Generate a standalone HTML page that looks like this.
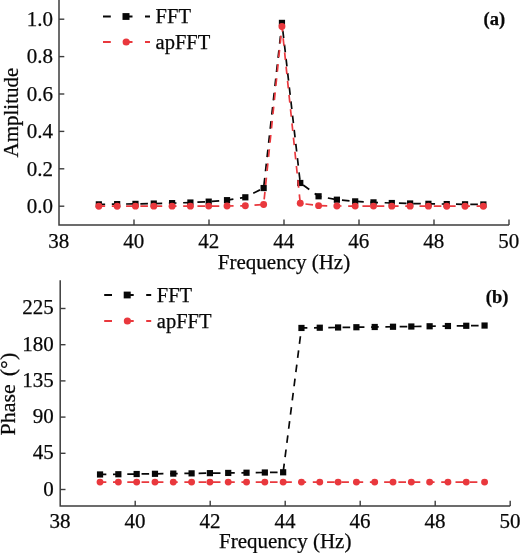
<!DOCTYPE html>
<html><head><meta charset="utf-8"><title>FFT vs apFFT</title>
<style>html,body{margin:0;padding:0;background:#fff}svg{display:block}</style></head>
<body>
<svg width="520" height="553" viewBox="0 0 520 553" font-family="'Liberation Serif', serif" font-size="21px">
<rect width="520" height="553" fill="#fff"/>
<style>text{stroke:#080808;stroke-width:0.25px}</style>
<path d="M59 0 V224.9 H509" fill="none" stroke="#3d3d3d" stroke-width="1.5"/>
<path d="M134.0 224.9 v-5.3" stroke="#3d3d3d" stroke-width="1.4"/>
<path d="M209.0 224.9 v-5.3" stroke="#3d3d3d" stroke-width="1.4"/>
<path d="M284.0 224.9 v-5.3" stroke="#3d3d3d" stroke-width="1.4"/>
<path d="M359.0 224.9 v-5.3" stroke="#3d3d3d" stroke-width="1.4"/>
<path d="M434.0 224.9 v-5.3" stroke="#3d3d3d" stroke-width="1.4"/>
<path d="M509.0 224.9 v-5.3" stroke="#3d3d3d" stroke-width="1.4"/>
<text x="58.7" y="248.0" text-anchor="middle" fill="#080808">38</text>
<text x="133.7" y="248.0" text-anchor="middle" fill="#080808">40</text>
<text x="208.7" y="248.0" text-anchor="middle" fill="#080808">42</text>
<text x="283.7" y="248.0" text-anchor="middle" fill="#080808">44</text>
<text x="358.7" y="248.0" text-anchor="middle" fill="#080808">46</text>
<text x="433.7" y="248.0" text-anchor="middle" fill="#080808">48</text>
<text x="508.7" y="248.0" text-anchor="middle" fill="#080808">50</text>
<path d="M59 206.2 h5.3" stroke="#3d3d3d" stroke-width="1.4"/>
<text x="53" y="213.0" text-anchor="end" fill="#080808">0.0</text>
<path d="M59 168.79999999999998 h5.3" stroke="#3d3d3d" stroke-width="1.4"/>
<text x="53" y="175.6" text-anchor="end" fill="#080808">0.2</text>
<path d="M59 131.39999999999998 h5.3" stroke="#3d3d3d" stroke-width="1.4"/>
<text x="53" y="138.2" text-anchor="end" fill="#080808">0.4</text>
<path d="M59 93.99999999999999 h5.3" stroke="#3d3d3d" stroke-width="1.4"/>
<text x="53" y="100.79999999999998" text-anchor="end" fill="#080808">0.6</text>
<path d="M59 56.599999999999994 h5.3" stroke="#3d3d3d" stroke-width="1.4"/>
<text x="53" y="63.39999999999999" text-anchor="end" fill="#080808">0.8</text>
<path d="M59 19.19999999999999 h5.3" stroke="#3d3d3d" stroke-width="1.4"/>
<text x="53" y="25.99999999999999" text-anchor="end" fill="#080808">1.0</text>
<text x="284" y="268.6" text-anchor="middle" fill="#080808">Frequency (Hz)</text>
<text transform="translate(18.2 112.6) rotate(-90)" text-anchor="middle"  fill="#080808">Amplitude</text>
<path d="M103 16.5 H110.8 M126 16.5 H132.5 M145 16.5 H150" stroke="#080808" stroke-width="2"/>
<rect x="122.5" y="13.1" width="7" height="6.8" fill="#080808"/>
<text x="155.6" y="23.1" font-size="20.5px" fill="#080808">FFT</text>
<path d="M103 42 H110.8 M126 42 H132.5 M145 42 H150" stroke="#e9383d" stroke-width="2"/>
<circle cx="126.2" cy="42" r="3.6" fill="#e9383d"/>
<text x="155.6" y="48.6" font-size="20.5px" fill="#080808">apFFT</text>
<text x="483.5" y="24.8" font-weight="bold" font-size="18.5px" fill="#080808">(a)</text>
<polyline points="98.84,204.35 117.15,204.14 135.46,203.89 153.78,203.56 172.09,203.13 190.40,202.53 208.71,201.64 227.02,200.17 245.33,197.31 263.64,188.04 281.95,22.90 300.26,182.98 318.57,196.28 336.88,199.71 355.19,201.38 373.50,202.37 391.81,203.02 410.12,203.48 428.43,203.82 446.74,204.09 465.05,204.30 483.37,204.48" fill="none" stroke="#080808" stroke-width="1.7" stroke-dasharray="7.6 6.67" stroke-dashoffset="1.3"/>
<rect x="95.74" y="201.25" width="6.2" height="6.2" fill="#080808"/>
<rect x="114.05" y="201.04" width="6.2" height="6.2" fill="#080808"/>
<rect x="132.36" y="200.79" width="6.2" height="6.2" fill="#080808"/>
<rect x="150.68" y="200.46" width="6.2" height="6.2" fill="#080808"/>
<rect x="168.99" y="200.03" width="6.2" height="6.2" fill="#080808"/>
<rect x="187.30" y="199.43" width="6.2" height="6.2" fill="#080808"/>
<rect x="205.61" y="198.54" width="6.2" height="6.2" fill="#080808"/>
<rect x="223.92" y="197.07" width="6.2" height="6.2" fill="#080808"/>
<rect x="242.23" y="194.21" width="6.2" height="6.2" fill="#080808"/>
<rect x="260.54" y="184.94" width="6.2" height="6.2" fill="#080808"/>
<rect x="278.85" y="19.80" width="6.2" height="6.2" fill="#080808"/>
<rect x="297.16" y="179.88" width="6.2" height="6.2" fill="#080808"/>
<rect x="315.47" y="193.18" width="6.2" height="6.2" fill="#080808"/>
<rect x="333.78" y="196.61" width="6.2" height="6.2" fill="#080808"/>
<rect x="352.09" y="198.28" width="6.2" height="6.2" fill="#080808"/>
<rect x="370.40" y="199.27" width="6.2" height="6.2" fill="#080808"/>
<rect x="388.71" y="199.92" width="6.2" height="6.2" fill="#080808"/>
<rect x="407.02" y="200.38" width="6.2" height="6.2" fill="#080808"/>
<rect x="425.33" y="200.72" width="6.2" height="6.2" fill="#080808"/>
<rect x="443.64" y="200.99" width="6.2" height="6.2" fill="#080808"/>
<rect x="461.95" y="201.20" width="6.2" height="6.2" fill="#080808"/>
<rect x="480.27" y="201.38" width="6.2" height="6.2" fill="#080808"/>
<polyline points="98.84,206.18 117.15,206.18 135.46,206.17 153.78,206.16 172.09,206.15 190.40,206.13 208.71,206.09 227.02,206.01 245.33,205.78 263.64,204.44 281.95,26.53 300.26,203.32 318.57,205.67 336.88,205.97 355.19,206.08 373.50,206.12 391.81,206.15 410.12,206.16 428.43,206.17 446.74,206.18 465.05,206.18 483.37,206.18" fill="none" stroke="#e9383d" stroke-width="1.7" stroke-dasharray="7.6 6.67" stroke-dashoffset="1.3"/>
<circle cx="98.84" cy="206.18" r="3.45" fill="#e9383d"/>
<circle cx="117.15" cy="206.18" r="3.45" fill="#e9383d"/>
<circle cx="135.46" cy="206.17" r="3.45" fill="#e9383d"/>
<circle cx="153.78" cy="206.16" r="3.45" fill="#e9383d"/>
<circle cx="172.09" cy="206.15" r="3.45" fill="#e9383d"/>
<circle cx="190.40" cy="206.13" r="3.45" fill="#e9383d"/>
<circle cx="208.71" cy="206.09" r="3.45" fill="#e9383d"/>
<circle cx="227.02" cy="206.01" r="3.45" fill="#e9383d"/>
<circle cx="245.33" cy="205.78" r="3.45" fill="#e9383d"/>
<circle cx="263.64" cy="204.44" r="3.45" fill="#e9383d"/>
<circle cx="281.95" cy="26.53" r="3.45" fill="#e9383d"/>
<circle cx="300.26" cy="203.32" r="3.45" fill="#e9383d"/>
<circle cx="318.57" cy="205.67" r="3.45" fill="#e9383d"/>
<circle cx="336.88" cy="205.97" r="3.45" fill="#e9383d"/>
<circle cx="355.19" cy="206.08" r="3.45" fill="#e9383d"/>
<circle cx="373.50" cy="206.12" r="3.45" fill="#e9383d"/>
<circle cx="391.81" cy="206.15" r="3.45" fill="#e9383d"/>
<circle cx="410.12" cy="206.16" r="3.45" fill="#e9383d"/>
<circle cx="428.43" cy="206.17" r="3.45" fill="#e9383d"/>
<circle cx="446.74" cy="206.18" r="3.45" fill="#e9383d"/>
<circle cx="465.05" cy="206.18" r="3.45" fill="#e9383d"/>
<circle cx="483.37" cy="206.18" r="3.45" fill="#e9383d"/>
<g transform="translate(1.2 0.5)">
<path d="M59 279.7 V505.5 H509" fill="none" stroke="#3d3d3d" stroke-width="1.5"/>
<path d="M134.0 505.5 v-5.3" stroke="#3d3d3d" stroke-width="1.4"/>
<path d="M209.0 505.5 v-5.3" stroke="#3d3d3d" stroke-width="1.4"/>
<path d="M284.0 505.5 v-5.3" stroke="#3d3d3d" stroke-width="1.4"/>
<path d="M359.0 505.5 v-5.3" stroke="#3d3d3d" stroke-width="1.4"/>
<path d="M434.0 505.5 v-5.3" stroke="#3d3d3d" stroke-width="1.4"/>
<path d="M509.0 505.5 v-5.3" stroke="#3d3d3d" stroke-width="1.4"/>
<text x="58.7" y="527.8000000000001" text-anchor="middle" fill="#080808">38</text>
<text x="133.7" y="527.8000000000001" text-anchor="middle" fill="#080808">40</text>
<text x="208.7" y="527.8000000000001" text-anchor="middle" fill="#080808">42</text>
<text x="283.7" y="527.8000000000001" text-anchor="middle" fill="#080808">44</text>
<text x="358.7" y="527.8000000000001" text-anchor="middle" fill="#080808">46</text>
<text x="433.7" y="527.8000000000001" text-anchor="middle" fill="#080808">48</text>
<text x="508.7" y="527.8000000000001" text-anchor="middle" fill="#080808">50</text>
<path d="M59 489.0 h5.3" stroke="#3d3d3d" stroke-width="1.4"/>
<text x="52.5" y="495.0" text-anchor="end" fill="#080808">0</text>
<path d="M59 452.7975 h5.3" stroke="#3d3d3d" stroke-width="1.4"/>
<text x="52.5" y="458.7975" text-anchor="end" fill="#080808">45</text>
<path d="M59 416.595 h5.3" stroke="#3d3d3d" stroke-width="1.4"/>
<text x="52.5" y="422.595" text-anchor="end" fill="#080808">90</text>
<path d="M59 380.3925 h5.3" stroke="#3d3d3d" stroke-width="1.4"/>
<text x="52.5" y="386.3925" text-anchor="end" fill="#080808">135</text>
<path d="M59 344.19 h5.3" stroke="#3d3d3d" stroke-width="1.4"/>
<text x="52.5" y="350.19" text-anchor="end" fill="#080808">180</text>
<path d="M59 307.9875 h5.3" stroke="#3d3d3d" stroke-width="1.4"/>
<text x="52.5" y="313.9875" text-anchor="end" fill="#080808">225</text>
<text x="284" y="547.8000000000001" text-anchor="middle" fill="#080808">Frequency (Hz)</text>
<text transform="translate(13.7 393.6) rotate(-90)" text-anchor="middle" font-size="22px" word-spacing="2.4px" fill="#080808">Phase (°)</text>
<path d="M103 294.5 H110.8 M126 294.5 H132.5 M145 294.5 H150" stroke="#080808" stroke-width="2"/>
<rect x="122.5" y="291.1" width="7" height="6.8" fill="#080808"/>
<text x="155.6" y="301.1" font-size="20.5px" fill="#080808">FFT</text>
<path d="M103 320.5 H110.8 M126 320.5 H132.5 M145 320.5 H150" stroke="#e9383d" stroke-width="2"/>
<circle cx="126.2" cy="320.5" r="3.6" fill="#e9383d"/>
<text x="155.6" y="327.1" font-size="20.5px" fill="#080808">apFFT</text>
<text x="484.6" y="302.4" font-weight="bold" font-size="18.5px" fill="#080808">(b)</text>
<polyline points="98.84,473.96 117.15,473.74 135.46,473.52 153.78,473.30 172.09,473.09 190.40,472.87 208.71,472.65 227.02,472.44 245.33,472.22 263.64,472.00 281.95,471.78 300.26,327.46 318.57,327.22 336.88,326.97 355.19,326.73 373.50,326.49 391.81,326.25 410.12,326.01 428.43,325.77 446.74,325.53 465.05,325.28 483.37,325.04" fill="none" stroke="#080808" stroke-width="1.7" stroke-dasharray="7.6 6.67" stroke-dashoffset="1.3"/>
<rect x="95.74" y="470.86" width="6.2" height="6.2" fill="#080808"/>
<rect x="114.05" y="470.64" width="6.2" height="6.2" fill="#080808"/>
<rect x="132.36" y="470.42" width="6.2" height="6.2" fill="#080808"/>
<rect x="150.68" y="470.20" width="6.2" height="6.2" fill="#080808"/>
<rect x="168.99" y="469.99" width="6.2" height="6.2" fill="#080808"/>
<rect x="187.30" y="469.77" width="6.2" height="6.2" fill="#080808"/>
<rect x="205.61" y="469.55" width="6.2" height="6.2" fill="#080808"/>
<rect x="223.92" y="469.34" width="6.2" height="6.2" fill="#080808"/>
<rect x="242.23" y="469.12" width="6.2" height="6.2" fill="#080808"/>
<rect x="260.54" y="468.90" width="6.2" height="6.2" fill="#080808"/>
<rect x="278.85" y="468.68" width="6.2" height="6.2" fill="#080808"/>
<rect x="297.16" y="324.36" width="6.2" height="6.2" fill="#080808"/>
<rect x="315.47" y="324.12" width="6.2" height="6.2" fill="#080808"/>
<rect x="333.78" y="323.87" width="6.2" height="6.2" fill="#080808"/>
<rect x="352.09" y="323.63" width="6.2" height="6.2" fill="#080808"/>
<rect x="370.40" y="323.39" width="6.2" height="6.2" fill="#080808"/>
<rect x="388.71" y="323.15" width="6.2" height="6.2" fill="#080808"/>
<rect x="407.02" y="322.91" width="6.2" height="6.2" fill="#080808"/>
<rect x="425.33" y="322.67" width="6.2" height="6.2" fill="#080808"/>
<rect x="443.64" y="322.43" width="6.2" height="6.2" fill="#080808"/>
<rect x="461.95" y="322.18" width="6.2" height="6.2" fill="#080808"/>
<rect x="480.27" y="321.94" width="6.2" height="6.2" fill="#080808"/>
<polyline points="98.84,481.60 117.15,481.60 135.46,481.60 153.78,481.60 172.09,481.60 190.40,481.60 208.71,481.60 227.02,481.60 245.33,481.60 263.64,481.60 281.95,481.60 300.26,481.60 318.57,481.60 336.88,481.60 355.19,481.60 373.50,481.60 391.81,481.60 410.12,481.60 428.43,481.60 446.74,481.60 465.05,481.60 483.37,481.60" fill="none" stroke="#e9383d" stroke-width="1.7" stroke-dasharray="7.6 6.67" stroke-dashoffset="1.3"/>
<circle cx="98.84" cy="481.60" r="3.45" fill="#e9383d"/>
<circle cx="117.15" cy="481.60" r="3.45" fill="#e9383d"/>
<circle cx="135.46" cy="481.60" r="3.45" fill="#e9383d"/>
<circle cx="153.78" cy="481.60" r="3.45" fill="#e9383d"/>
<circle cx="172.09" cy="481.60" r="3.45" fill="#e9383d"/>
<circle cx="190.40" cy="481.60" r="3.45" fill="#e9383d"/>
<circle cx="208.71" cy="481.60" r="3.45" fill="#e9383d"/>
<circle cx="227.02" cy="481.60" r="3.45" fill="#e9383d"/>
<circle cx="245.33" cy="481.60" r="3.45" fill="#e9383d"/>
<circle cx="263.64" cy="481.60" r="3.45" fill="#e9383d"/>
<circle cx="281.95" cy="481.60" r="3.45" fill="#e9383d"/>
<circle cx="300.26" cy="481.60" r="3.45" fill="#e9383d"/>
<circle cx="318.57" cy="481.60" r="3.45" fill="#e9383d"/>
<circle cx="336.88" cy="481.60" r="3.45" fill="#e9383d"/>
<circle cx="355.19" cy="481.60" r="3.45" fill="#e9383d"/>
<circle cx="373.50" cy="481.60" r="3.45" fill="#e9383d"/>
<circle cx="391.81" cy="481.60" r="3.45" fill="#e9383d"/>
<circle cx="410.12" cy="481.60" r="3.45" fill="#e9383d"/>
<circle cx="428.43" cy="481.60" r="3.45" fill="#e9383d"/>
<circle cx="446.74" cy="481.60" r="3.45" fill="#e9383d"/>
<circle cx="465.05" cy="481.60" r="3.45" fill="#e9383d"/>
<circle cx="483.37" cy="481.60" r="3.45" fill="#e9383d"/>
</g>
</svg>
</body></html>
